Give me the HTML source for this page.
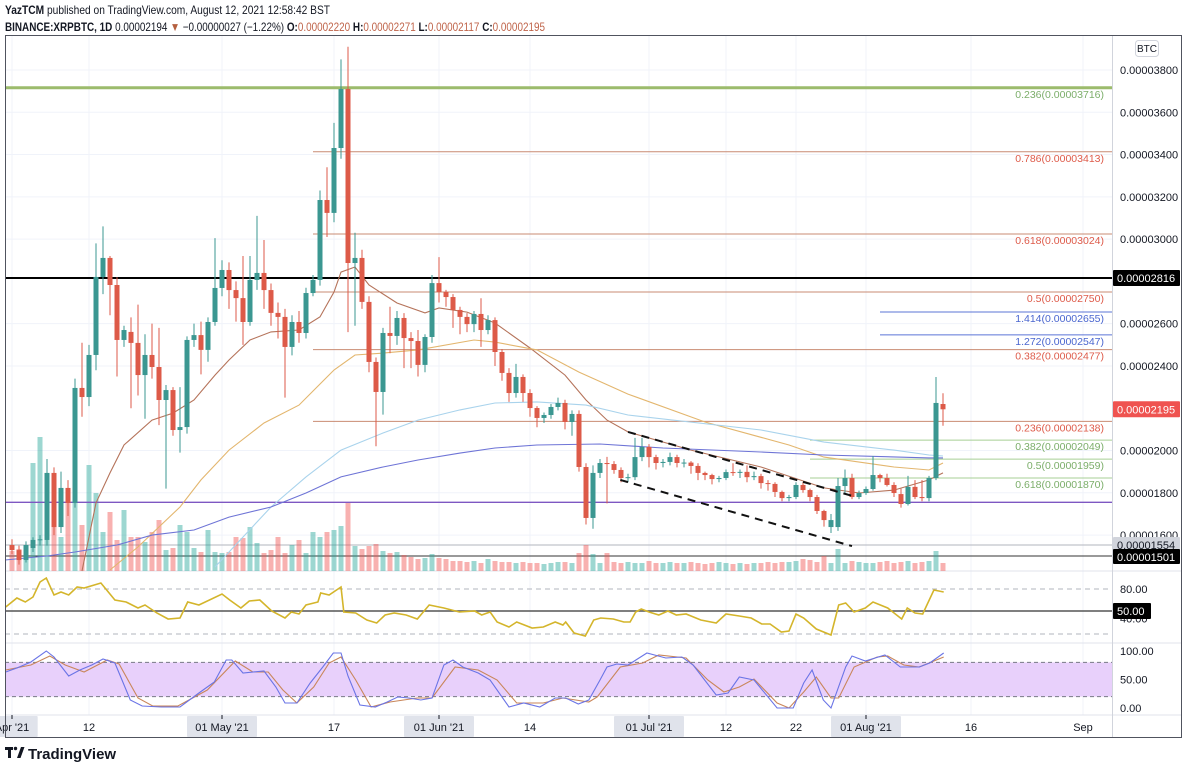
<!DOCTYPE html>
<html><head><meta charset="utf-8">
<style>
html,body{margin:0;padding:0;background:#fff;}
body{width:1186px;height:768px;overflow:hidden;font-family:"Liberation Sans",sans-serif;}
svg text{font-family:"Liberation Sans",sans-serif;}
</style></head>
<body>
<svg id="chart" width="1186" height="768" viewBox="0 0 1186 768" xmlns="http://www.w3.org/2000/svg">
  <text x="5" y="14" font-size="12" fill="#131722" textLength="325" lengthAdjust="spacingAndGlyphs"><tspan font-weight="bold">YazTCM</tspan> published on TradingView.com, August 12, 2021 12:58:42 BST</text>
  <text x="5" y="31" font-size="12" fill="#131722" textLength="540" lengthAdjust="spacingAndGlyphs"><tspan font-weight="bold">BINANCE:XRPBTC, 1D</tspan> 0.00002194 <tspan fill="#b5603f">▼</tspan> −0.00000027 (−1.22%) <tspan font-weight="bold">O:</tspan><tspan fill="#c0654b">0.00002220</tspan> <tspan font-weight="bold">H:</tspan><tspan fill="#c0654b">0.00002271</tspan> <tspan font-weight="bold">L:</tspan><tspan fill="#c0654b">0.00002117</tspan> <tspan font-weight="bold">C:</tspan><tspan fill="#c0654b">0.00002195</tspan></text>
  <g id="grid"></g>
  <g id="panes"></g>
  <g id="vol"></g>
  <g id="hlines"></g>
  <g id="mas"></g>
  <g id="candles"></g>
  <g id="draw"></g>
  <g id="osc"></g>
  <g id="axes"></g>
  <rect x="5.5" y="35.5" width="1176" height="702" fill="none" stroke="#50535e" stroke-width="1"/>
  <g>
    <rect x="5" y="747" width="8" height="3" fill="#131722"/>
    <rect x="8" y="747" width="3" height="11" fill="#131722"/>
    <circle cx="15.5" cy="748.5" r="1.7" fill="#131722"/>
    <polygon points="17,758 21,747 24.5,747 20.5,758" fill="#131722"/>
    <text x="28" y="759" font-size="15" font-weight="bold" fill="#131722">TradingView</text>
  </g>
</svg>
<script>
// prices in units of 1e-6 BTC (e.g. 22.20 = 0.00002220); day index 0 = 01 Apr 2021
const opens = [15.53,15.29,14.82,15.39,15.77,15.77,18.94,16.38,18.23,17.52,
22.96,22.53,24.52,28.21,29.11,27.83,25.23,25.61,25.09,23.57,
24.52,23.95,22.39,22.86,20.97,21.11,25.23,25.46,24.76,26.08,
27.69,28.54,27.59,27.21,26.08,28.07,28.40,27.59,26.51,26.32,
24.90,26.08,25.56,27.45,28.07,31.85,31.24,34.31,37.10,28.87,
29.11,27.03,24.19,22.77,25.56,25.42,26.27,25.32,25.18,24.05,
25.37,27.92,27.50,27.26,26.65,26.32,25.98,26.46,25.70,26.17,
24.66,23.67,22.72,23.48,22.72,22.01,21.54,21.68,22.06,22.25,
21.35,21.73,19.22,16.81,18.94,19.41,19.36,19.08,18.70,18.74,
19.69,20.17,19.69,19.41,19.46,19.69,19.41,19.43,19.27,18.94,
18.84,18.65,18.70,18.98,18.96,18.99,18.74,18.79,18.46,18.42,
18.04,17.75,17.80,18.37,18.13,17.80,17.14,16.38,16.38,18.32,
18.70,17.80,17.99,18.18,18.84,18.70,18.37,17.94,17.47,18.28,17.80,17.75,18.70,22.20];
const closes = [15.29,14.82,15.53,15.77,15.80,18.94,16.38,18.23,17.52,22.96,
22.53,24.52,28.21,29.11,27.83,25.23,25.70,25.09,23.57,24.52,
23.95,22.39,22.86,20.97,21.11,25.23,25.46,24.76,26.08,27.69,
28.54,27.59,27.21,26.08,28.07,28.40,27.59,26.51,26.32,24.90,
26.08,25.56,27.45,28.07,31.85,31.24,34.31,37.10,28.87,29.11,
27.03,24.19,22.77,25.56,25.42,26.27,25.32,25.18,24.05,25.37,
27.92,27.50,27.26,26.65,26.32,25.98,26.46,25.70,26.17,24.66,
23.67,22.72,23.48,22.72,22.01,21.54,21.68,22.06,22.25,21.35,
21.73,19.22,16.81,18.94,19.41,19.36,19.08,18.70,18.74,19.69,
20.17,19.69,19.41,19.46,19.69,19.41,19.43,19.27,18.94,18.84,
18.65,18.70,18.98,18.96,18.99,18.74,18.79,18.46,18.42,18.04,
17.75,17.80,18.37,18.13,17.80,17.14,16.71,16.71,18.32,18.70,
17.80,17.99,18.18,18.84,18.70,18.37,17.99,17.47,18.28,17.80,17.75,18.70,22.25,21.95];
const highs = [15.8,15.5,15.7,15.9,16.0,19.6,19.2,19.0,18.6,23.4,
25.1,25.0,29.8,30.6,29.2,28.2,25.9,26.3,26.9,25.5,
26.0,25.8,23.1,23.0,23.0,25.4,26.0,26.1,26.3,30.05,
29.0,28.9,28.0,29.2,29.2,31.1,29.96,27.9,27.0,26.7,
26.4,26.6,27.7,28.3,32.3,33.4,35.5,38.5,39.1,30.3,
29.5,27.3,24.4,25.8,26.8,26.6,26.5,25.6,25.7,25.5,
28.3,29.15,27.6,27.4,26.8,26.5,26.6,27.2,26.4,26.3,
24.8,23.9,24.1,23.6,22.9,22.1,21.8,22.2,22.5,22.4,
21.9,21.9,19.4,19.3,19.6,19.7,19.5,19.2,18.9,20.6,
20.6,20.3,19.8,19.6,19.9,19.8,19.6,19.5,19.4,19.0,
18.9,18.8,19.1,19.4,19.1,19.3,19.0,18.9,18.6,18.5,
18.1,17.9,18.5,18.5,18.2,17.9,17.2,17.0,18.7,19.1,
18.9,18.1,18.3,19.74,18.9,18.9,18.5,18.2,18.8,18.6,18.6,18.8,23.48,22.71];
const lows = [15.1,14.6,14.7,15.2,15.5,15.5,16.0,16.1,16.9,17.3,
21.6,22.1,23.8,27.4,26.4,23.5,24.9,22.0,22.6,21.5,
23.4,21.2,18.2,20.7,19.9,20.8,24.9,23.6,24.2,25.9,
27.3,26.7,26.1,25.0,25.9,27.6,26.7,25.9,25.3,22.5,
24.5,25.1,25.3,27.3,27.8,30.1,30.8,33.8,25.6,25.9,
26.7,23.7,20.2,21.7,24.6,25.0,23.9,23.9,23.5,23.7,
25.1,27.0,26.8,25.8,25.5,25.6,25.6,24.9,25.5,24.0,
23.3,22.3,22.5,22.3,21.6,21.1,21.3,21.5,21.9,21.0,
20.7,19.0,16.5,16.3,18.7,17.5,18.9,18.5,18.5,18.6,
19.5,19.2,19.1,19.2,19.3,19.2,19.2,18.9,18.6,18.6,
18.4,18.5,18.6,18.8,18.7,18.5,18.6,18.2,18.1,17.8,
17.6,17.6,17.7,18.0,17.6,17.0,16.4,16.1,16.2,18.0,
17.7,17.7,17.9,18.1,18.5,18.3,17.8,17.3,17.4,17.7,17.6,17.6,18.6,21.17];
const volumes = [20,22,26,108,134,98,89,34,69,69,
46,106,78,39,59,31,61,34,34,29,
39,51,21,23,46,39,23,19,41,19,
18,19,34,33,44,28,18,21,34,18,
26,31,18,39,34,39,41,45,68,25,
22,25,27,20,18,19,16,14,12,13,
17,13,12,10,10,9,10,8,12,10,
9,9,8,9,8,8,7,8,9,9,
8,18,26,17,8,18,9,8,9,8,
8,10,8,8,9,8,8,9,8,7,
8,9,8,7,8,7,8,8,9,8,
9,9,10,12,11,9,15,8,22,8,
10,9,8,8,9,10,8,9,10,8,9,10,20,8];
// moving averages (day, price)
const ma20Days = [10,12,14,16,20,23,26,29,31,34,37,41,44,46,47,49,51,55,59,61,65,69,74,79,82,85,88,97,107,116,121,126,131,133];
const ma20Vals = [14.30,17.52,18.94,20.26,21.44,21.77,22.39,23.57,24.28,25.23,25.61,25.70,26.32,27.50,28.44,28.68,27.83,26.98,26.51,26.74,26.55,26.03,24.85,23.57,22.39,21.44,20.88,20.02,19.22,18.23,17.99,18.13,18.61,18.94];
const ma50Days = [14,18,24,27,31,36,41,46,49,53,58,66,69,75,81,88,99,111,116,126,131,133];
const ma50Vals = [14.35,15.44,17.33,18.61,20.02,21.30,22.15,23.81,24.52,24.61,24.76,25.23,25.13,24.76,23.71,22.67,21.35,20.26,19.69,19.22,19.08,19.41];
const ma100Days = [29,37,42,47,53,58,64,69,75,82,88,107,116,126,131,133];
const ma100Vals = [14.49,17.33,18.75,20.02,20.83,21.44,21.92,22.25,22.30,22.15,21.68,20.97,20.40,20.02,19.79,19.74];
const ma200Days = [-1,5,9,15,20,26,31,37,42,47,53,58,64,69,75,84,93,107,116,131,133];
const ma200Vals = [14.82,15.01,15.20,15.53,16.00,16.24,16.85,17.33,17.99,18.75,19.22,19.55,19.88,20.12,20.26,20.31,20.12,19.93,19.79,19.65,19.65];
// RSI
const rsiDays = [-0.9,0.7,1.9,3,4,4.9,6,7,8.1,9.3,10.3,12.7,14.7,16.3,18,19,20.7,22.3,24,25.1,26.7,30,31.1,32.7,33.9,35.4,37.1,39,39.9,41,42,43.7,44.1,45.3,47,47.4,49.1,50.7,52.1,53.3,54.6,56.3,57.9,59.6,61.7,63.9,66.1,67.1,68.3,69.3,71,72.1,74.3,75.9,77.6,78.7,79.1,80.3,81.9,83.1,84.1,85.9,87.4,88.3,89.1,89.9,91,92.4,93.7,94.9,96.3,98.4,100.6,102,103.9,105.6,107.1,108.3,109.9,111,112,113.1,114.9,117,118.1,119.1,120.3,121.9,123,125.1,127.1,127.9,129,130.1,131.7,133.1];
const rsiVals = [55.5,67.7,62.3,69.1,89.6,95,71.8,75.9,71.8,82.7,81.4,88.2,65,62.3,54.1,58.2,47.3,39.1,40.5,62.3,58.2,73.2,65,54.1,63.6,65,50,40.5,48.6,45.9,58.2,62.3,74.6,71.8,82.7,48.6,47.3,37.7,33.6,44.5,47.3,44.5,39.1,58.2,54.1,48.6,50,44.5,48.6,35,28.2,35,26.8,28.2,35,30.9,35,20,15.9,37.7,40.5,39.1,35,35,48.6,52.7,48.6,44.5,50,44.5,45.9,37.7,33.6,45.9,43.2,40.5,32.3,32.3,21.4,22.7,45.9,40.5,25.4,17.3,58.2,60.9,48.6,54.1,62.3,54.1,39.1,54.1,47.3,45.9,78.6,75.9];
// Stoch RSI %K and %D
const kDays = [-0.9,0.7,2.7,4.9,6,8.1,9.7,11.4,13,14.7,16.9,18.6,21.3,24,26.7,28.9,30.6,31.4,33,36,37.7,39,40.7,42.6,44.4,45.9,47,48,49.7,51.9,53.6,55.1,56.7,58.4,60,61.7,63,64.4,66.6,68.3,71,73.1,75.4,77.6,79.1,80.9,82.4,84,85,86.4,88,90.7,93.4,95.7,97.3,100.6,102.3,103.9,106,109.3,111.6,113.1,114.3,115.9,117,119.1,120,121.9,124.7,126.9,129.6,131.1,133.1];
const kVals = [63.2,70.2,80.7,100,89.5,56.1,66.7,75.4,86,79,14,3.5,1.8,1.8,26.3,45.6,84.2,84.2,61.4,64.9,36.8,8.8,8.8,43.9,71.9,96.5,96.5,56.1,5.3,1.8,10.5,19.3,17.5,14,17.5,75.4,84.2,71.9,61.4,49.1,1.8,8.8,1.8,17.5,17.5,7,14,49.1,71.9,77.2,75.4,96.5,87.7,89.5,75.4,22.8,26.3,54.4,49.1,0,0,43.9,66.7,14,0,71.9,91.2,82.5,93,71.9,71.9,78.9,96.5];
const dDays = [-0.9,2.7,5.4,7.6,10.3,13.6,15.3,18,20.1,23.7,27.9,31.9,34.4,36.6,38.7,40.7,43.1,45.3,47,49.1,51.3,54,57.9,60,63.3,66.6,69.3,72.1,75.9,78.7,82.4,83.6,86.9,90.1,92.4,96.3,99.4,101.7,103.9,106,109.3,111,113.1,114.9,117,118.1,120.3,123.6,125.1,127.4,129.6,133.1];
const dVals = [66.7,75.4,91.2,75.4,63.2,84.2,77.2,17.5,3.5,3.5,31.6,82.5,63.2,63.2,31.6,8.8,36.8,78.9,89.5,49.1,1.8,10.5,17.5,17.5,71.9,66.7,49.1,8.8,8.8,17.5,10.5,19.3,71.9,78.9,93,87.7,49.1,28.1,36.8,50.9,8.8,0,28.1,54.4,17.5,17.5,71.9,89.5,91.2,75.4,71.9,89.5];
// Fibonacci / horizontal levels
const fibPrices = [37.16,34.13,30.24,27.50,26.55,25.47,24.77,21.38,20.49,19.59,18.70];
const fibLabels = ["0.236(0.00003716)","0.786(0.00003413)","0.618(0.00003024)","0.5(0.00002750)","1.414(0.00002655)","1.272(0.00002547)","0.382(0.00002477)","0.236(0.00002138)","0.382(0.00002049)","0.5(0.00001959)","0.618(0.00001870)"];
const fibKinds = ["g0","r","r","r","b","b","r","r","g","g","g"];
const fibStartDays = [-1,43,43,43,124,124,43,43,114,114,114];
const priceTicks = [38,36,34,32,30,26,24,20,18,16];
const tickLabels = ["0.00003800","0.00003600","0.00003400","0.00003200","0.00003000","0.00002600","0.00002400","0.00002000","0.00001800","0.00001600"];
const dateTickDays = [0,11,30,46,61,74,91,102,112,122,137,153];
const dateTickLabels = ["Apr '21","12","01 May '21","17","01 Jun '21","14","01 Jul '21","12","22","01 Aug '21","16","Sep"];
const dateTickBoxed = [1,0,1,0,1,0,1,0,0,1,0,0];
const trendUpper = [[88,20.88],[120.6,17.80]];
const trendLower = [[86.9,18.61],[120,15.48]];
const blackLevel = 28.16, purpleLevel = 17.55, lastPrice = 21.95;

const NS="http://www.w3.org/2000/svg";
const X0=5, X1=1112;
function xd(d){return 12+7*d;}
function yp(p){return 70+(38-p)*21.14;}
function yv(v){return 571-v;}
function yr(v){return 611-(v-50)*0.733;}
function ys(v){return 708-v*0.57;}
function mk(parent,tag,attrs){const e=document.createElementNS(NS,tag);for(const k in attrs)e.setAttribute(k,attrs[k]);parent.appendChild(e);return e;}
const g=id=>document.getElementById(id);

// grid
const grid=g('grid');
priceTicks.forEach(p=>{const l=mk(grid,'line',{x1:X0,x2:X1,y1:yp(p),y2:yp(p),stroke:'#f0f3fa','stroke-width':1});

});
dateTickDays.forEach(d=>{const l=mk(grid,'line',{x1:xd(d),x2:xd(d),y1:36,y2:715,stroke:'#f0f3fa','stroke-width':1});

});

// panes
const panes=g('panes');
[[571,'#e0e3eb'],[643,'#e0e3eb'],[715,'#e0e3eb']].forEach(([y,c])=>{const l=mk(panes,'line',{x1:X0,x2:1182,y1:y,y2:y,stroke:c,'stroke-width':1});

});
const ax=mk(panes,'line',{x1:X1+0.5,x2:X1+0.5,y1:36,y2:738,stroke:'#d1d4dc','stroke-width':1});


const band=mk(panes,'rect',{x:X0,y:ys(80),width:X1-X0,height:ys(20)-ys(80),fill:'#e8d0fb'});


[80,20].forEach(v=>{const l=mk(panes,'line',{x1:X0,x2:X1,y1:ys(v),y2:ys(v),stroke:'#787b86','stroke-dasharray':'4 3','stroke-width':1});

});
[80,20].forEach(v=>{const l=mk(panes,'line',{x1:X0,x2:X1,y1:yr(v)+ (v==20?1:0),y2:yr(v)+(v==20?1:0),stroke:'#b2b5be','stroke-dasharray':'5 4','stroke-width':1});

});
const r50=mk(panes,'line',{x1:X0,x2:X1,y1:yr(50),y2:yr(50),stroke:'#555','stroke-width':1.5});


[545,556].forEach((y,i)=>{const l=mk(panes,'line',{x1:X0,x2:X1,y1:y,y2:y,stroke:i?'#333':'#b2b5be','stroke-width':1});

});

// volumes
const vol=g('vol');
volumes.forEach((v,i)=>{const up=closes[i]>=opens[i];
const r=mk(vol,'rect',{x:xd(i)-2.5,y:yv(v),width:5,height:v,fill:up?'rgba(38,166,154,0.45)':'rgba(239,83,80,0.45)'});

});

// horizontal levels
const hl=g('hlines');
const bl=mk(hl,'line',{x1:X0,x2:X1,y1:yp(blackLevel),y2:yp(blackLevel),stroke:'#000','stroke-width':2});


const pl=mk(hl,'line',{x1:X0,x2:X1,y1:yp(purpleLevel),y2:yp(purpleLevel),stroke:'#7e57c2','stroke-width':1.3});


const colors={g0:['#9cbb6c','#7cae6a',3],r:['#c98b73','#de5b4a',1],b:['#5b74d6','#4a66cf',1],g:['#a7cf95','#7cae6a',1]};
fibPrices.forEach((p,i)=>{const c=colors[fibKinds[i]];const y=yp(p);
const l=mk(hl,'line',{x1:Math.max(X0,xd(fibStartDays[i])),x2:X1,y1:y,y2:y,stroke:c[0],'stroke-width':c[2]});


const t=mk(hl,'text',{x:1104,y:y+10,'font-size':10.5,fill:c[1],'text-anchor':'end'});t.textContent=fibLabels[i];

});

// moving averages
const mas=g('mas');
[[ma20Days,ma20Vals,'#b5735a','ma20'],[ma50Days,ma50Vals,'#e3b66e','ma50'],[ma100Days,ma100Vals,'#a9d3ec','ma100'],[ma200Days,ma200Vals,'#6e74d6','ma200']].forEach(([ds,vs,c,n])=>{
const pts=ds.map((d,i)=>xd(d).toFixed(1)+','+yp(vs[i]).toFixed(1)).join(' ');
const l=mk(mas,'polyline',{points:pts,fill:'none',stroke:c,'stroke-width':1.1});

});

// candles
const cg=g('candles');
opens.forEach((o,i)=>{const c=closes[i];const up=c>=o;const col=up?'#3b9791':'#dd5a48';const x=xd(i);
const w=mk(cg,'line',{x1:x,x2:x,y1:yp(highs[i]),y2:yp(lows[i]),stroke:col,'stroke-width':1});


const top=yp(Math.max(o,c)),bot=yp(Math.min(o,c));
const b=mk(cg,'rect',{x:x-2.5,y:top,width:5,height:Math.max(1,bot-top),fill:col});

});

// trendlines
const dr=g('draw');
[trendUpper,trendLower].forEach((t,i)=>{const l=mk(dr,'line',{x1:xd(t[0][0]),y1:yp(t[0][1]),x2:xd(t[1][0]),y2:yp(t[1][1]),stroke:'#111','stroke-width':2,'stroke-dasharray':'8 6'});

});

// oscillators
const os=g('osc');
function poly(ds,vs,fy,c,n,w){const pts=ds.map((d,i)=>xd(d).toFixed(1)+','+fy(vs[i]).toFixed(1)).join(' ');
const l=mk(os,'polyline',{points:pts,fill:'none',stroke:c,'stroke-width':w});

}
poly(rsiDays,rsiVals,yr,'#d4b52b','rsi-line',1.6);
poly(dDays,dVals,ys,'#c9865a','stoch-d-line',1.1);
poly(kDays,kVals,ys,'#6a74e6','stoch-k-line',1.1);

// axes
const axg=g('axes');
function txt(x,y,s,fs,fill,anchor,name){const t=mk(axg,'text',{x:x,y:y,'font-size':fs,fill:fill,'text-anchor':anchor||'start'});t.textContent=s;

return t;}
function box(x,y,w,h,fill,name){const r=mk(axg,'rect',{x:x,y:y,width:w,height:h,fill:fill,rx:1});

}
priceTicks.forEach((p,i)=>txt(1120,yp(p)+4,tickLabels[i],11,'#131722','start','price-tick-label'));
box(1135,40,24,17,'#fff','currency-box');
const cb=mk(axg,'rect',{x:1135.5,y:40.5,width:23,height:16,fill:'none',stroke:'#d1d4dc',rx:3});


txt(1147,52,'BTC',10,'#131722','middle','currency-label');
box(1113,yp(blackLevel)-8,67,16,'#000','level-price-box');
txt(1117,yp(blackLevel)+4,'0.00002816',11,'#fff','start','level-price-label');
box(1113,yp(lastPrice)-8,67,16,'#ef5350','last-price-box');
txt(1117,yp(lastPrice)+4,'0.00002195',11,'#fff','start','last-price-label');
box(1113,537,67,15,'#d1d4dc','volume-level-box');
txt(1117,549,'0.00001554',11,'#131722','start','volume-level-label');
box(1113,549,67,15,'#000','volume-level-box-2');
txt(1117,561,'0.00001501',11,'#fff','start','volume-level-label-2');
txt(1120,yr(80)+4,'80.00',11,'#131722','start','rsi-tick-label');
txt(1120,yr(40)+4,'40.00',11,'#131722','start','rsi-tick-label');
box(1113,yr(50)-8,38,16,'#000','rsi-50-box');
txt(1117,yr(50)+4,'50.00',11,'#fff','start','rsi-50-label');
[100,50,0].forEach(v=>txt(1120,ys(v)+4,v.toFixed(2),11,'#131722','start','stoch-tick-label'));
dateTickDays.forEach((d,i)=>{const x=xd(d);const s=dateTickLabels[i];
if(dateTickBoxed[i]){const w=s.length*6.2+8;box(x-w/2,716,w,21,'#e0e3eb','date-label-box');
const tk=mk(axg,'line',{x1:x,x2:x,y1:715,y2:719,stroke:'#131722'});

}
txt(x,731,s,11,'#131722','middle','date-tick-label');});
</script>
</body></html>
